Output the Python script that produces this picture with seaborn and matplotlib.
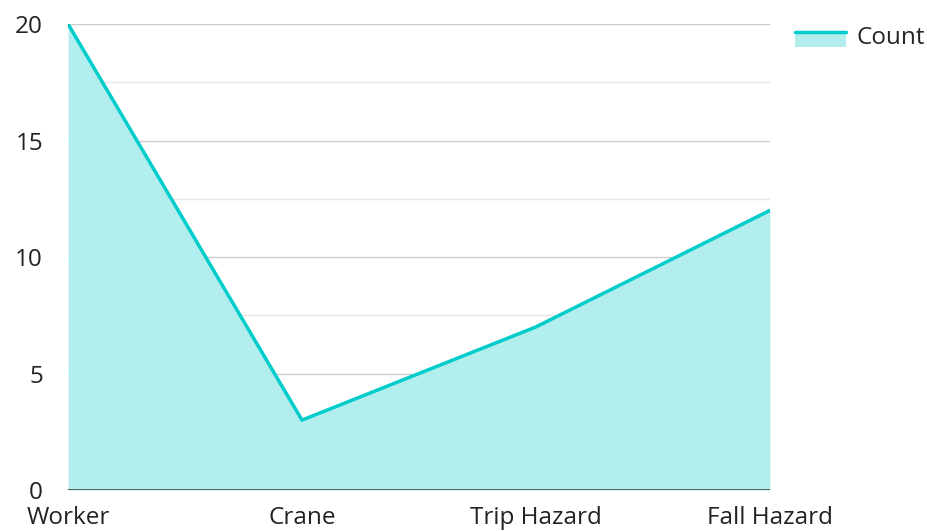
import matplotlib
matplotlib.use("Agg")
import matplotlib.pyplot as plt
import pandas as pd
import seaborn as sns
from matplotlib.legend_handler import HandlerBase
from matplotlib.lines import Line2D
from matplotlib.patches import Rectangle

categories = ["Worker", "Crane", "Trip Hazard", "Fall Hazard"]
counts = [20, 3, 7, 12]
y_ticks = [0, 5, 10, 15, 20]
y_minor = [2.5, 7.5, 12.5, 17.5]

LINE = "#00CCCC"
FILL = "#B2EEEE"


class AreaHandler(HandlerBase):
    """Legend key: line sitting on top of a filled block."""

    def create_artists(self, legend, orig_handle, xdescent, ydescent,
                       width, height, fontsize, trans):
        top = height * 0.7 - ydescent
        rect = Rectangle((-xdescent, -ydescent - height * 0.2), width,
                         top + ydescent + height * 0.2,
                         facecolor=FILL, edgecolor="none", transform=trans)
        line = Line2D([-xdescent, width - xdescent], [top, top],
                      color=LINE, lw=2.5, transform=trans)
        return [rect, line]


sns.set_theme(style="white")
plt.rcParams["font.family"] = ["Open Sans", "DejaVu Sans"]

df = pd.DataFrame({"Category": categories, "Count": counts})
x = list(range(len(categories)))

fig = plt.figure(figsize=(9.28, 5.31), dpi=100)
ax = fig.add_axes([0.0733, 0.0772, 0.7564, 0.8776])

ax.fill_between(x, counts, 0, color=FILL, linewidth=0, zorder=1)
sns.lineplot(x=x, y=df["Count"], color=LINE, linewidth=2.5, ax=ax, zorder=3)

for v in y_ticks[1:]:
    ax.axhline(v, color="#cccccc", linewidth=1, zorder=0)
for v in y_minor:
    ax.axhline(v, color="#e6e6e6", linewidth=1, zorder=0)
ax.axhline(0, color="#333333", linewidth=1.8, zorder=4)

ax.set_xlim(0, len(categories) - 1)
ax.set_ylim(0, 20)
ax.set_xticks(x)
ax.set_xticklabels(categories)
ax.set_yticks(y_ticks)
ax.tick_params(axis="both", length=0, labelsize=17.5, colors="#222222")
ax.tick_params(axis="y", pad=18)
ax.tick_params(axis="x", pad=11.5)
ax.set_xlabel("")
ax.set_ylabel("")
for s in ax.spines.values():
    s.set_visible(False)

ax.legend([object()], ["Count"], handler_map={object: AreaHandler()},
          loc="upper left", bbox_to_anchor=(795 / 928, 1 - 26 / 531),
          bbox_transform=fig.transFigure, frameon=False, borderpad=0,
          borderaxespad=0, fontsize=17.5, handlelength=2.1, handletextpad=0.45)

fig.savefig("out.png", dpi=100)
